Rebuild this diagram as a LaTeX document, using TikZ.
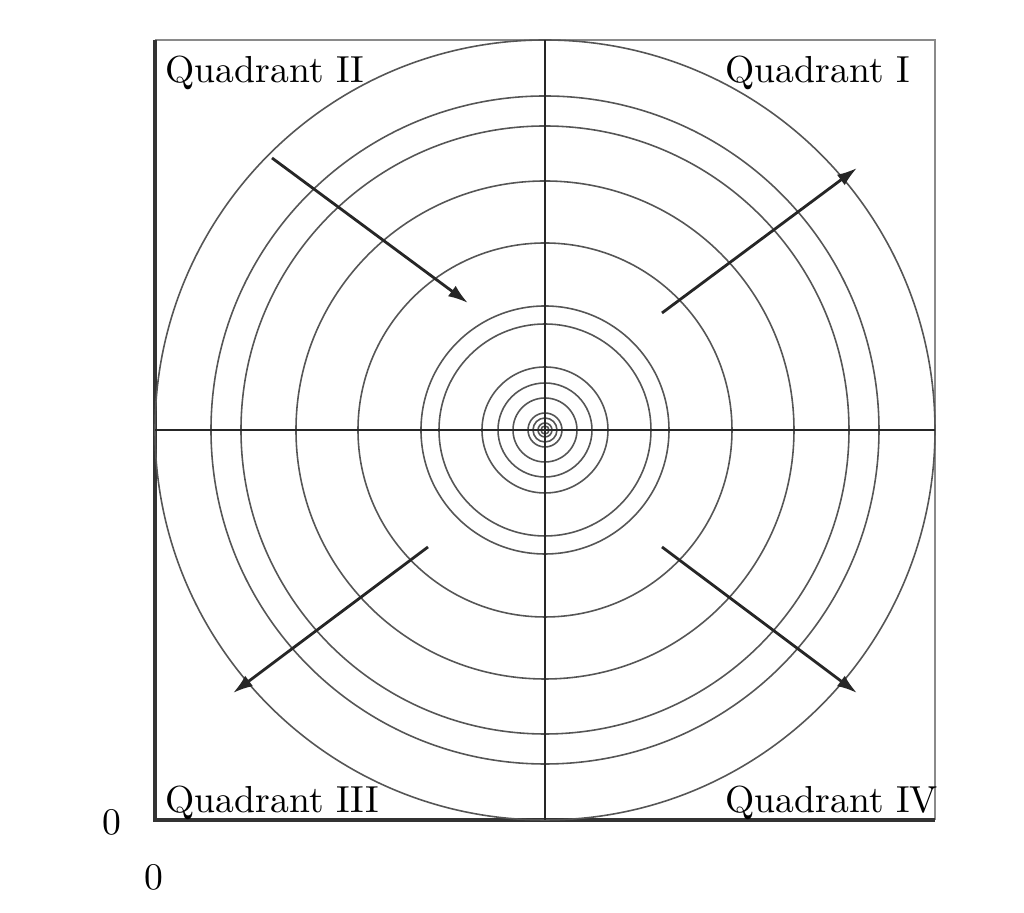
\documentclass[tikz,border=0pt]{standalone}
\usepackage{tikz}
\usetikzlibrary{arrows.meta, positioning, calc}
\definecolor{ringgray}{HTML}{555555}
\definecolor{framegray}{HTML}{8a8a8a}

\begin{document}
\begin{tikzpicture}[
    ring/.style={draw=ringgray, line width=0.45pt},
    axis/.style={draw=black!85, line width=0.6pt},
    frame/.style={draw=framegray, line width=0.5pt},
    edge/.style={draw=black!80, line width=1pt},
    arr/.style={-{Latex[length=2mm, width=1.3mm]}, black!85, line width=0.8pt},
    lab/.style={inner sep=0pt, font=\fontsize{10.7}{13}\selectfont},
  ]
  \useasboundingbox (-5.45,-4.83) rectangle (4.79,4.30);

  % frame of the plane
  \draw[frame] (-3.9,3.9) -- (3.9,3.9) -- (3.9,-3.9);
  \draw[edge] (-3.9,3.9) -- (-3.9,-3.9) -- (3.9,-3.9);

  % level circles
  \foreach \r in {3.9, 3.34, 3.04, 2.49, 1.87, 1.24, 1.06, 0.63, 0.47, 0.32, 0.17, 0.12, 0.07, 0.04}
    \draw[ring] (0,0) circle (\r);

  % axes through the centre
  \draw[axis] (-3.9,0) -- (3.9,0);
  \draw[axis] (0,-3.9) -- (0,3.9);

  % quadrant labels
  \node[lab, anchor=base west] (q2) at (-3.80,3.47) {Quadrant II};
  \node[lab, anchor=base west] (q1) at (1.80,3.47) {Quadrant I};
  \node[lab, anchor=base west] (q3) at (-3.80,-3.83) {Quadrant III};
  \node[lab, anchor=base west] (q4) at (1.80,-3.83) {Quadrant IV};

  % origin ticks
  \node[lab] (zeroy) at (-4.33,-3.92) {0};
  \node[lab] (zerox) at (-3.91,-4.47) {0};

  % flow arrows
  \coordinate (s1) at (1.17,1.17);   \coordinate (t1) at (3.12,2.62);
  \coordinate (s2) at (-2.73,2.72);  \coordinate (t2) at (-0.77,1.27);
  \coordinate (s3) at (-1.17,-1.17); \coordinate (t3) at (-3.12,-2.63);
  \coordinate (s4) at (1.17,-1.17);  \coordinate (t4) at (3.12,-2.63);
  \draw[arr] (s1) -- (t1);
  \draw[arr] (s2) -- (t2);
  \draw[arr] (s3) -- (t3);
  \draw[arr] (s4) -- (t4);
\end{tikzpicture}
\end{document}
